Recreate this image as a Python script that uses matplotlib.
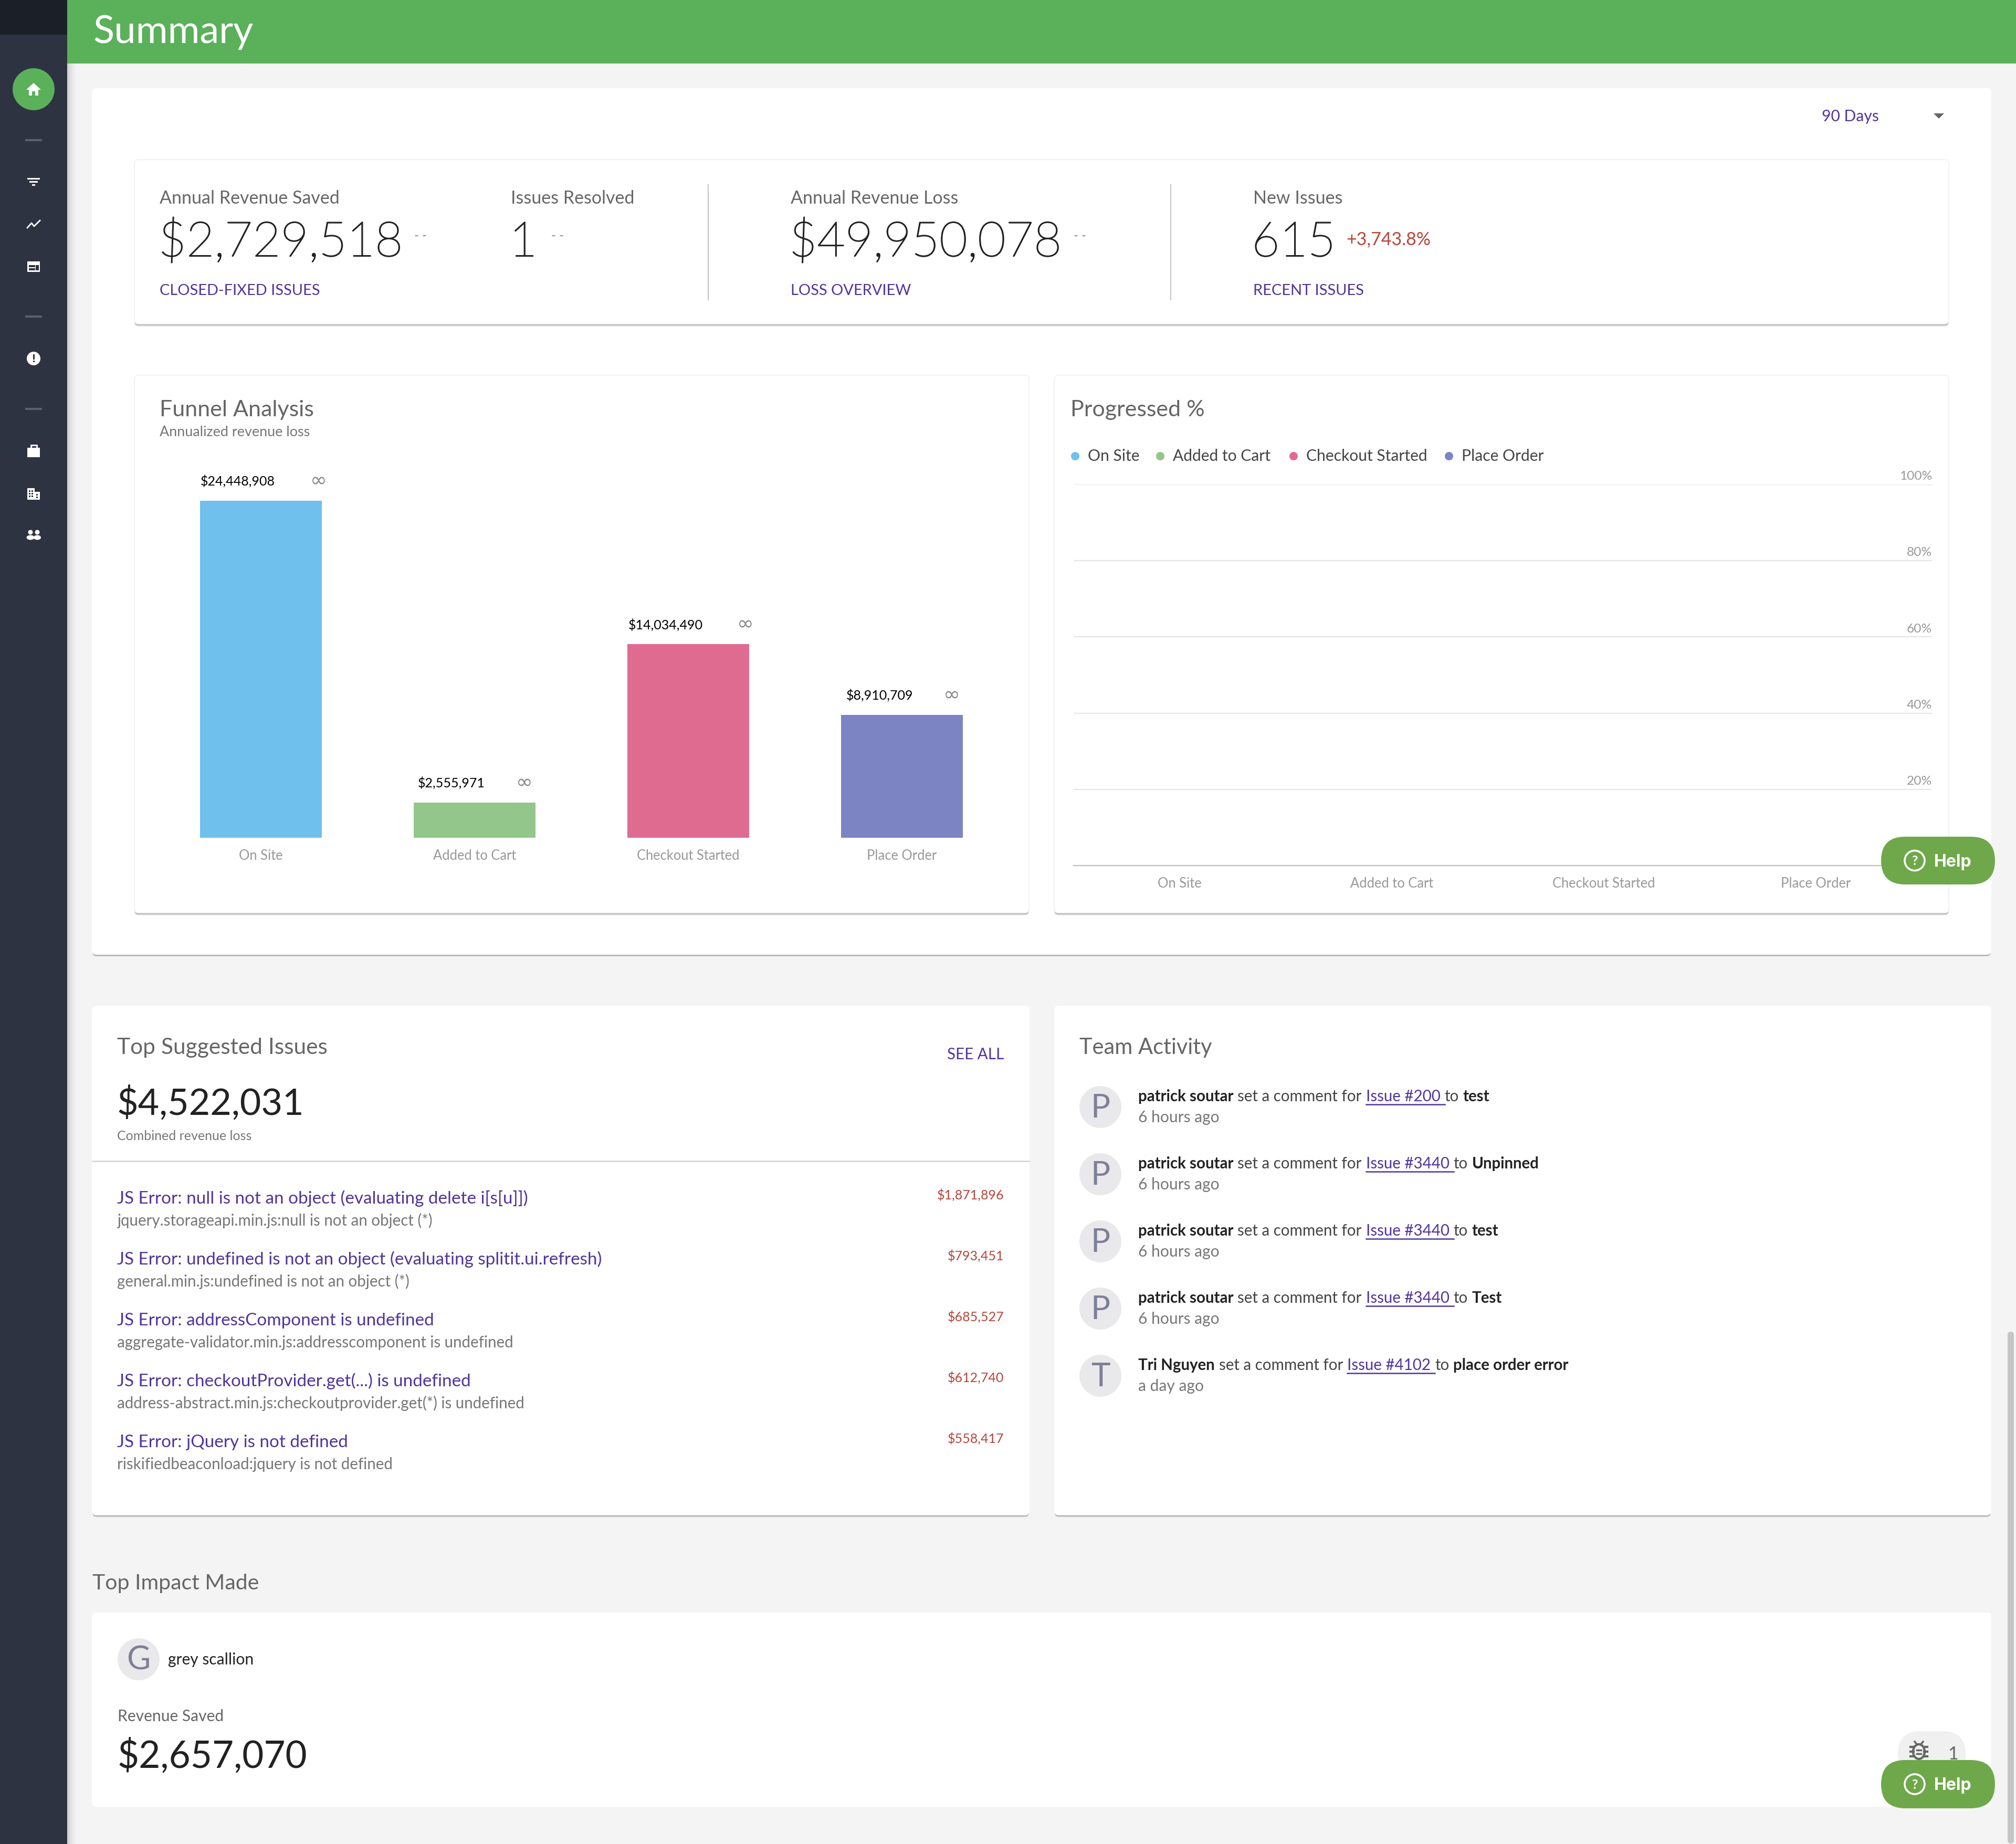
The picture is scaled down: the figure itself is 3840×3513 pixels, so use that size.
#!/usr/bin/env python3
"""Dashboard summary page: funnel bars, progressed chart, issue and activity cards."""
import matplotlib
matplotlib.use("Agg")
import matplotlib.pyplot as plt
import matplotlib.patheffects as pe
from matplotlib.patches import Circle, FancyBboxPatch, Rectangle, Polygon, Ellipse

plt.rcParams["font.family"] = ["Lato", "DejaVu Sans"]

W, H = 3840, 3513

# --- data ---
categories = ["On Site", "Added to Cart", "Checkout Started", "Place Order"]
funnel_values = [24448908, 2555971, 14034490, 8910709]
funnel_change = ["∞", "∞", "∞", "∞"]
progressed_values = [0, 0, 0, 0]
progressed_ticks = [20, 40, 60, 80, 100]

kpi_labels = ["Annual Revenue Saved", "Issues Resolved", "Annual Revenue Loss", "New Issues"]
kpi_values = ["$2,729,518", "1", "$49,950,078", "615"]
kpi_changes = ["- -", "- -", "- -", "+3,743.8%"]
kpi_links = ["CLOSED-FIXED ISSUES", "", "LOSS OVERVIEW", "RECENT ISSUES"]

issue_titles = [
    "JS Error: null is not an object (evaluating delete i[s[u]])",
    "JS Error: undefined is not an object (evaluating splitit.ui.refresh)",
    "JS Error: addressComponent is undefined",
    "JS Error: checkoutProvider.get(...) is undefined",
    "JS Error: jQuery is not defined",
]
issue_subs = [
    "jquery.storageapi.min.js:null is not an object (*)",
    "general.min.js:undefined is not an object (*)",
    "aggregate-validator.min.js:addresscomponent is undefined",
    "address-abstract.min.js:checkoutprovider.get(*) is undefined",
    "riskifiedbeaconload:jquery is not defined",
]
issue_amounts = ["$1,871,896", "$793,451", "$685,527", "$612,740", "$558,417"]

activity_users = ["patrick soutar", "patrick soutar", "patrick soutar", "patrick soutar", "Tri Nguyen"]
activity_issues = ["Issue #200", "Issue #3440", "Issue #3440", "Issue #3440", "Issue #4102"]
activity_targets = ["test", "Unpinned", "test", "Test", "place order error"]
activity_times = ["6 hours ago", "6 hours ago", "6 hours ago", "6 hours ago", "a day ago"]

# --- colours ---
BG = "#f4f4f4"
GREEN = "#5bb05a"
HELP = "#6fa84a"
SIDEBAR = "#2d3340"
TITLE = "#666666"
DARK = "#222222"
LINK = "#50359c"
RED = "#b8453a"
MUTED = "#999999"
bar_colors = ["#70c0ee", "#93c68a", "#df6b91", "#7d84c4"]


def px_axes(x0, y0, x1, y1, zorder=1):
    """Axes covering a pixel box, y measured from the top of the image."""
    ax = fig.add_axes([x0 / W, 1 - y1 / H, (x1 - x0) / W, (y1 - y0) / H], zorder=zorder)
    ax.patch.set_alpha(0)
    for s in ax.spines.values():
        s.set_visible(False)
    return ax


def txt(ax, x, y, s, size, color=DARK, weight="normal", ha="left", va="baseline", **kw):
    return ax.text(x, y, s, fontsize=size * 0.72, color=color, fontweight=weight,
                   ha=ha, va=va, **kw)


def card(ax, x0, y0, x1, y1, shadow="#b5b5b5", edge="#f3f3f3", r=8):
    box = f"round,pad=0,rounding_size={r}"
    if shadow:
        ax.add_patch(FancyBboxPatch((x0, y0 + 5), x1 - x0, y1 - y0, fc="#e6e6e6", ec="none", boxstyle=box))
        ax.add_patch(FancyBboxPatch((x0, y0 + 3), x1 - x0, y1 - y0, fc=shadow, ec="none", boxstyle=box))
    ax.add_patch(FancyBboxPatch((x0, y0), x1 - x0, y1 - y0, fc="white", ec=edge, lw=1.5, boxstyle=box))


def pill(ax, x0, y0, x1, y1, color):
    r = min(y1 - y0, x1 - x0) / 2
    ax.add_patch(FancyBboxPatch((x0, y0), x1 - x0, y1 - y0, fc=color, ec="none",
                                boxstyle=f"round,pad=0,rounding_size={r}"))


def avatar(ax, x, y, letter):
    ax.add_patch(Circle((x, y), 40, fc="#e9e9eb", ec="none"))
    txt(ax, x, y + 2, letter, 62, color="#7f7f99", ha="center", va="center")


def help_button(ax, y0, y1):
    pill(ax, 3583, y0, 3800, y1, HELP)
    cy = (y0 + y1) / 2
    ax.add_patch(Circle((3647, cy), 19, fc="none", ec="white", lw=2.6))
    txt(ax, 3647, cy + 1, "?", 25, color="white", weight="bold", ha="center", va="center")
    txt(ax, 3684, cy + 11, "Help", 32, color="white", weight="bold",
        family=["Inter", "DejaVu Sans"])


def sidebar_icons(ax):
    ax.add_patch(Circle((64, 170), 40, fc=GREEN, ec="none"))
    ax.add_patch(Polygon([(50, 171), (64, 158), (78, 171), (73, 171), (73, 182), (67, 182),
                          (67, 174), (61, 174), (61, 182), (55, 182), (55, 171)], fc="white"))
    for y in (267, 603, 779):
        ax.add_patch(Rectangle((48, y - 2), 32, 4, fc="#5b606b"))
    # filter
    for y, half in ((341, 12), (347, 8), (353, 3)):
        ax.add_patch(Rectangle((64 - half, y - 1.5), 2 * half, 3, fc="white"))
    # trending line
    ax.plot([52, 60, 65, 76], [434, 425, 431, 420], color="white", lw=2)
    # table
    ax.add_patch(Rectangle((52, 498), 24, 20, fc="white"))
    ax.add_patch(Rectangle((54.5, 505), 12, 4, fc=SIDEBAR))
    ax.add_patch(Rectangle((54.5, 511), 12, 4, fc=SIDEBAR))
    ax.add_patch(Rectangle((68, 505), 6, 10, fc=SIDEBAR))
    # alert
    ax.add_patch(Circle((64, 683), 13, fc="white"))
    ax.add_patch(Rectangle((62.5, 675), 3, 10, fc=SIDEBAR))
    ax.add_patch(Rectangle((62.5, 687), 3, 3, fc=SIDEBAR))
    # briefcase
    ax.add_patch(Rectangle((52, 853), 24, 18, fc="white"))
    ax.add_patch(Rectangle((58.5, 848), 11, 6, fc="none", ec="white", lw=2))
    # building
    ax.add_patch(Rectangle((52, 930), 14, 22, fc="white"))
    ax.add_patch(Rectangle((66, 937), 10, 15, fc="white"))
    for yy in (934, 939, 944):
        for xx in (55, 60):
            ax.add_patch(Rectangle((xx, yy), 2.5, 2.5, fc=SIDEBAR))
    for yy in (941, 946):
        ax.add_patch(Rectangle((69, yy), 3, 2.5, fc=SIDEBAR))
    # people
    ax.add_patch(Circle((58, 1014), 4.5, fc="white"))
    ax.add_patch(Circle((71, 1014), 4.5, fc="white"))
    ax.add_patch(Ellipse((58, 1024), 15, 9, fc="white"))
    ax.add_patch(Ellipse((71, 1024), 14, 9, fc="white"))


def bug_icon(ax, x, y):
    ax.add_patch(Ellipse((x, y), 22, 28, fc="none", ec="#666666", lw=3))
    for dy in (-9, 0, 9):
        ax.plot([x - 16, x - 10], [y + dy, y + dy], color="#666666", lw=3)
        ax.plot([x + 10, x + 16], [y + dy, y + dy], color="#666666", lw=3)
    ax.plot([x - 8, x - 3], [y - 19, y - 13], color="#666666", lw=2.5)
    ax.plot([x + 8, x + 3], [y - 19, y - 13], color="#666666", lw=2.5)
    ax.plot([x - 4, x + 4], [y - 3, y - 3], color="#666666", lw=2.5)
    ax.plot([x - 4, x + 4], [y + 4, y + 4], color="#666666", lw=2.5)


fig = plt.figure(figsize=(W / 100, H / 100), dpi=100, facecolor=BG)

# --- page layer, pixel coordinates ---
page = px_axes(0, 0, W, H, zorder=0)
page.set_xlim(0, W)
page.set_ylim(H, 0)
page.axis("off")

# soft shadow next to the sidebar
for i, c in enumerate(["#d4d4d4", "#dcdcdc", "#e3e3e3", "#e9e9e9", "#eeeeee", "#f2f2f2"]):
    page.add_patch(Rectangle((128 + i * 3, 0), 3, H, fc=c, ec="none"))
page.add_patch(Rectangle((0, 0), 128, H, fc=SIDEBAR, ec="none"))
page.add_patch(Rectangle((0, 0), 128, 66, fc="#1b2028", ec="none"))
page.add_patch(Rectangle((128, 0), W - 128, 121, fc=GREEN, ec="none"))
txt(page, 177, 82, "Summary", 74, color="white")
sidebar_icons(page)

# scrollbar
pill(page, 3824, 2537, 3836, 3512, "#c6c6c6")

# outer card and inner cards
card(page, 176, 169, 3792, 1818, shadow="#a8a8a8", edge="white")
card(page, 256, 304, 3712, 617)
card(page, 256, 715, 1960, 1739)
card(page, 2008, 715, 3712, 1739)
card(page, 176, 1917, 1960, 2886, shadow="#a8a8a8", edge="white")
card(page, 2009, 1917, 3792, 2886, shadow="#a8a8a8", edge="white")
card(page, 176, 3073, 3792, 3441, shadow=None, edge="white")

# period selector
txt(page, 3470, 231, "90 Days", 30, color=LINK)
page.add_patch(Polygon([(3683, 216), (3703, 216), (3693, 226)], fc="#666666"))

# --- KPI row ---
kpi_x = [304.5, 973, 1506, 2387]
kpi_dash_x = [789, 1050, 2045, 0]
for x, label, value, change, link, dx in zip(kpi_x, kpi_labels, kpi_values, kpi_changes,
                                             kpi_links, kpi_dash_x):
    txt(page, x, 388, label, 34, color=TITLE)
    # no in-between Lato weight here, so thicken the light cut a little
    txt(page, x - 3, 488, value, 92, weight="light",
        path_effects=[pe.withStroke(linewidth=1.5, foreground=DARK)])
    if link:
        txt(page, x, 562, link, 29, color=LINK)
    if change == "- -":
        txt(page, dx, 456, change, 24, color="#777777")
    else:
        txt(page, 2564, 466, change, 34, color=RED)
for x in (1349, 2230):
    page.plot([x, x], [352, 571], color="#c8c8c8", lw=1.6)

# --- funnel card ---
txt(page, 304, 793, "Funnel Analysis", 43, color=TITLE)
txt(page, 304, 831, "Annualized revenue loss", 27, color="#777777")

ax = px_axes(293.5, 954, 1921.5, 1596, zorder=2)
ax.bar(range(len(categories)), funnel_values, width=0.57, color=bar_colors)
ax.set_xlim(-0.5, 3.5)
ax.set_ylim(0, max(funnel_values))
ax.set_yticks([])
ax.set_xticks(range(len(categories)))
ax.set_xticklabels(categories, fontsize=25.5 * 0.72, color=MUTED)
ax.tick_params(axis="x", length=0, pad=16)
label_dx = [1, 8, 2, 10]      # px from bar left, the label and ∞ are centred as a group
change_dx = [-6, -21, -7, -21]  # px from bar right
for i, (v, c) in enumerate(zip(funnel_values, funnel_change)):
    ax.annotate(f"${v:,}", xy=(i - 0.285, v), xytext=(label_dx[i] * 0.72, 27),
                textcoords="offset points", fontsize=25 * 0.72, color="black",
                ha="left", va="center")
    ax.annotate(c, xy=(i + 0.285, v), xytext=(change_dx[i] * 0.72, 27),
                textcoords="offset points", fontsize=38 * 0.72, color="#888888",
                ha="center", va="center", family=["DejaVu Sans"])

# --- progressed card ---
txt(page, 2039, 793, "Progressed %", 43, color=TITLE)
legend_x = [2048, 2210, 2464, 2760]
for x, name, c in zip(legend_x, categories, bar_colors):
    page.add_patch(Circle((x, 869), 8, fc=c, ec="none"))
    txt(page, x + 24, 869, name, 30, color="#444444", va="center")

ax2 = px_axes(2045, 923, 3680, 1649, zorder=2)
ax2.bar(range(len(categories)), progressed_values, width=0.57, color=bar_colors)
ax2.set_xlim(-0.5, 3.547)
ax2.set_ylim(0, 100)
ax2.set_xticks(range(len(categories)))
ax2.set_xticklabels(categories, fontsize=25.5 * 0.72, color=MUTED)
ax2.tick_params(axis="x", length=0, pad=16)
ax2.set_yticks(progressed_ticks)
ax2.set_yticklabels([])
ax2.tick_params(axis="y", length=0)
ax2.yaxis.grid(True, color="#e6e6e6", lw=1.6)
ax2.set_axisbelow(True)
ax2.spines["bottom"].set_visible(True)
ax2.spines["bottom"].set_color("#bdbdbd")
ax2.spines["bottom"].set_linewidth(1.6)
for t in progressed_ticks:
    ax2.annotate(f"{t}%", xy=(3.547, t), xytext=(0, 11), textcoords="offset points",
                 fontsize=24.5 * 0.72, color=MUTED, ha="right", va="center")

# --- top suggested issues ---
txt(page, 223, 2008, "Top Suggested Issues", 42.5, color=TITLE)
txt(page, 1912, 2018, "SEE ALL", 29.5, color=LINK, ha="right")
txt(page, 223, 2124, "$4,522,031", 70)
txt(page, 223, 2172, "Combined revenue loss", 25, color="#777777")
page.plot([176, 1960], [2212, 2212], color="#d4d4d4", lw=1.8)
for i, (title, sub, amount) in enumerate(zip(issue_titles, issue_subs, issue_amounts)):
    y = 2293 + i * 116
    txt(page, 223, y, title, 33.3, color=LINK)
    txt(page, 223, y + 42, sub, 29.5, color="#777777")
    txt(page, 1912, y - 8, amount, 25, color=RED, ha="right")

# --- team activity ---
txt(page, 2056, 2008, "Team Activity", 41.5, color=TITLE)
renderer = fig.canvas.get_renderer()
for i, (user, issue, target, when) in enumerate(zip(activity_users, activity_issues,
                                                    activity_targets, activity_times)):
    y = 2098 + i * 128
    avatar(page, 2096, y + 11, user[0].upper())
    x = 2168
    runs = [(user, "bold", DARK), ("set a comment for", "normal", "#444444"),
            (issue, "normal", LINK), ("to", "normal", "#444444"), (target, "bold", DARK)]
    for s, weight, color in runs:
        t = txt(page, x, y, s, 29.5, color=color, weight=weight)
        box = t.get_window_extent(renderer)
        if s == issue:
            page.plot([x, box.x1 + 8], [y + 6, y + 6], color=LINK, lw=1.8)
        x = box.x1 + 8
    txt(page, 2168, y + 40, when, 30, color="#777777")

# --- top impact ---
txt(page, 176, 3028, "Top Impact Made", 41, color=TITLE)
avatar(page, 264, 3161, "G")
txt(page, 320, 3171, "grey scallion", 30)
txt(page, 224, 3279, "Revenue Saved", 30, color=TITLE)
txt(page, 224, 3367, "$2,657,070", 71)
pill(page, 3615, 3298, 3744, 3384, "#f0f0f0")
bug_icon(page, 3655, 3337)
txt(page, 3720, 3352, "1", 34, color="#666666", ha="center")

# --- floating help buttons on top of everything ---
over = px_axes(0, 0, W, H, zorder=10)
over.set_xlim(0, W)
over.set_ylim(H, 0)
over.axis("off")
help_button(over, 1594, 1685)
help_button(over, 3353, 3445)

fig.savefig("out.png", dpi=100, facecolor=BG)
